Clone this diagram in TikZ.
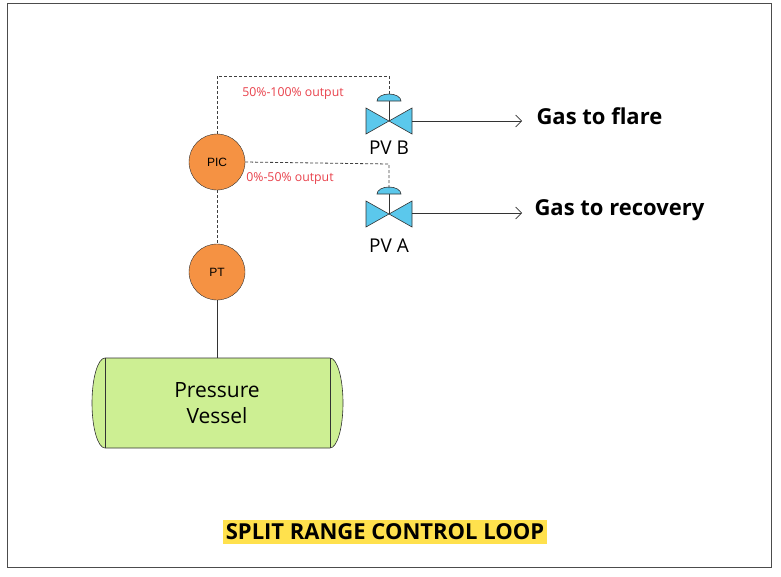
\documentclass[tikz,border=0pt]{standalone}
\usepackage{fontspec}
\setmainfont{Open Sans}
\newfontfamily\arialf{Liberation Sans}
\usetikzlibrary{arrows.meta}
\definecolor{instorange}{HTML}{F59243}
\definecolor{valveblue}{HTML}{5BC8EC}
\definecolor{vesselgreen}{HTML}{CDEF93}
\definecolor{sigred}{HTML}{E8414B}
\definecolor{titleyellow}{HTML}{FFE14D}
\tikzset{
  inst/.style={circle, draw=black!80, fill=instorange, minimum size=56pt, inner sep=0pt, font=\arialf\fontsize{12}{14}\selectfont},
  signal/.style={densely dashed, thick, black!75},
  pipe/.style={draw=black!80, semithick},
  sig label/.style={text=sigred, font=\fontsize{12.3}{14}\selectfont},
  valve label/.style={font=\fontsize{19}{22}\selectfont},
  stream label/.style={anchor=west, font=\bfseries\fontsize{22}{26}\selectfont}
}
% control valve: two triangles, stem and actuator dome
\newcommand{\ctrlvalve}[1]{%
  \draw[pipe, fill=valveblue] (#1) ++(-23,-13) -- ++(0,26) -- ++(46,-26) -- ++(0,26) -- cycle;
  \draw[pipe] (#1) -- ++(0,-20);
  \draw[pipe, fill=valveblue] (#1) ++(-12,-20) arc(180:360:12 and 7) -- cycle;
}
\begin{document}
\begin{tikzpicture}[x=1pt,y=-1pt]
  \useasboundingbox (0,0) rectangle (781,576);
  \draw[black!70] (7,3) rectangle (771,567);

  % instruments
  \node[inst] (pic) at (217,162) {PIC};
  \node[inst] (pt) at (217,272) {PT};

  % vessel
  \draw[pipe, fill=vesselgreen] (105,358) -- (330,358) arc(-90:90:13 and 45) -- (105,448) arc(90:270:13 and 45) -- cycle;
  \draw[pipe] (105,358) -- (105,448);
  \draw[pipe] (330,358) -- (330,448);
  \node[align=center, font=\fontsize{21}{26}\selectfont] (vessel) at (217,403) {Pressure\\Vessel};
  \coordinate (vtop) at (217,358);
  \draw[pipe] (pt.south) -- (vtop);

  % valves
  \coordinate (pvb) at (389,121);
  \coordinate (pva) at (389,214);
  \ctrlvalve{pvb}
  \ctrlvalve{pva}
  \node[valve label] (pvbl) at (389,148) {PV B};
  \node[valve label] (pval) at (389,246) {PV A};

  % outlet lines
  \coordinate (flare) at (522,121);
  \coordinate (recov) at (522,213);
  \draw[pipe, -{Straight Barb[length=6pt]}] (412,121) -- (flare);
  \draw[pipe, -{Straight Barb[length=6pt]}] (412,213) -- (recov);
  \node[stream label] at (533,116) {Gas to flare};
  \node[stream label] at (531,210) {Gas to recovery};

  % signals
  \coordinate (actb) at (389,96);
  \coordinate (acta) at (389,189);
  \draw[signal] (pic.north) -- (217,76) -| (actb);
  \draw[signal] (pic.east) -- (389,164) -- (acta);
  \draw[signal] (pic.south) -- (pt.north);
  \node[sig label] at (293,94) {50\%-100\% output};
  \node[sig label] at (290,179) {0\%-50\% output};

  % title
  \node[fill=titleyellow, inner xsep=3pt, inner ysep=4pt, font=\bfseries\fontsize{22}{26}\selectfont] (title) at (385,532) {SPLIT RANGE CONTROL LOOP};
\end{tikzpicture}
\end{document}
